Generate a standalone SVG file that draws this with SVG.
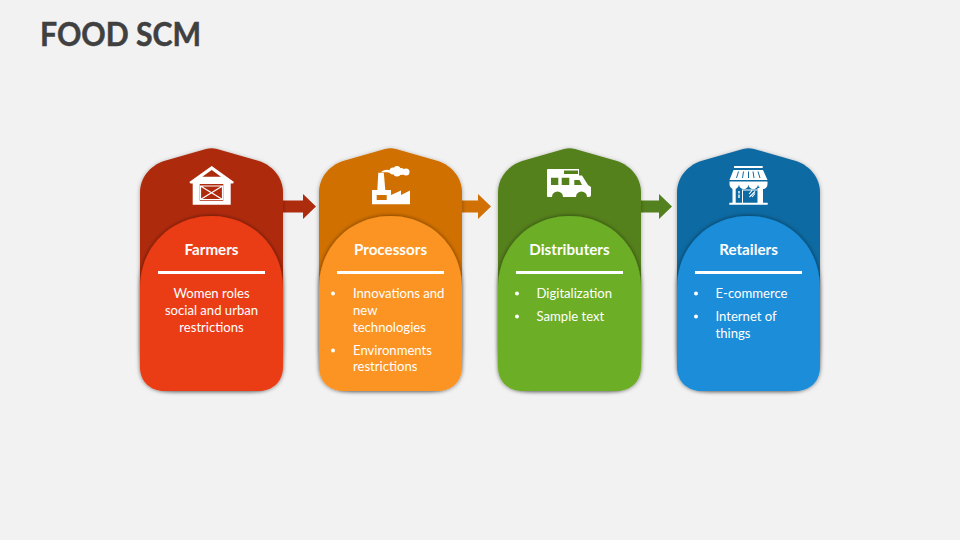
<svg xmlns="http://www.w3.org/2000/svg" width="960" height="540" viewBox="0 0 960 540">
<style>
text{font-family:"Lato","Carlito","Open Sans",sans-serif;fill:#fff}
.title{font-family:"Lato","Open Sans",sans-serif;font-size:33px;font-weight:700;fill:#404040;stroke:#404040;stroke-width:.5}
.head{font-size:15.2px;font-weight:700;text-anchor:middle}
.body{font-size:13.100px}
.mid{text-anchor:middle}
.rule{fill:#fff}
.icon{fill:#fff}
.r{fill:#AE2C0E}.r2{fill:#EA3C14}
.o{fill:#D07005}.o2{fill:#FB9422}
.g{fill:#54811F}.g2{fill:#6CAE27}
.b{fill:#116AA2}.b2{fill:#1A8DD9}
</style>
<defs>
<filter id="sh" x="-20%" y="-20%" width="140%" height="140%"><feDropShadow dx="0" dy="1" stdDeviation="2" flood-color="#000" flood-opacity=".35"/></filter>
<filter id="sh2" x="-20%" y="-20%" width="140%" height="140%"><feDropShadow dx="0" dy="0" stdDeviation="2" flood-color="#000" flood-opacity=".55"/></filter>
<path id="outer" d="M0 192V44C0 31 9 18 24 13L66 1Q71.500 -0.500 77 1L119 13C134 18 143 31 143 44V192C143 228 130 243 108 243H35C13 243 0 228 0 192Z"/>
<path id="inner" d="M0 140C0 98 32 68 71.500 68C111 68 143 98 143 140V219C143 234 132 243 119 243H24C11 243 0 234 0 219Z"/>
</defs>
<rect width="960" height="540" fill="#F2F2F2"/>
<text class="title" x="40" y="46" textLength="161" lengthAdjust="spacingAndGlyphs">FOOD SCM</text>

<g id="connectors">
<path class="r" d="M283 200.500H303V194L316 206.500L303 219V212.500H283Z"/>
<path class="o" d="M462 200.500H478V194L491 206.500L478 219V212.500H462Z"/>
<path class="g" d="M641 200.500H659V194L672 206.500L659 219V212.500H641Z"/>
</g>

<g id="farmers" transform="translate(140 148)">
<use href="#outer" class="r" filter="url(#sh)"/>
<use href="#inner" class="r2" filter="url(#sh2)"/>
<path class="icon" fill-rule="evenodd" transform="translate(-140 -148)" d="M211.700 166L234 182L233 183.500H230.700V204.700H192.700V183.500H190.500L189.300 182ZM211.700 170L202.300 176.700H221ZM199.700 184V200.700H223.300V184Z"/>
<path transform="translate(-140 -148)" fill="none" stroke="#fff" stroke-width="1.200" d="M200.500 186H222.500V199.500H200.500ZM200.500 186L222.500 199.500M222.500 186L200.500 199.500"/>
<text class="head" x="71.500" y="107">Farmers</text>
<rect class="rule" x="18" y="123" width="107" height="3"/>
<text class="body mid" x="71.500" y="150">Women roles</text>
<text class="body mid" x="71.500" y="167">social and urban</text>
<text class="body mid" x="71.500" y="184">restrictions</text>
</g>

<g id="processors" transform="translate(319 148)">
<use href="#outer" class="o" filter="url(#sh)"/>
<use href="#inner" class="o2" filter="url(#sh2)"/>
<path class="icon" fill-rule="evenodd" transform="translate(-319 -148)" d="M378.300 172.700H383.800L385.300 190H391L391 195L401 190.500V195L410 190.500V204.300H372V190H377.300ZM376.700 195V200H386.700V195Z"/>
<g class="icon" transform="translate(-319 -148)">
<path d="M381 172.500C383 169.500 387 169 391 170.500L394 174C389 172 385 172 381 172.500Z"/>
<circle cx="393" cy="171" r="3.500"/><circle cx="397" cy="169.500" r="3.500"/><circle cx="401" cy="171.500" r="3.500"/><circle cx="406" cy="172" r="3.500"/><circle cx="397" cy="173" r="3.500"/>
</g>
<text class="head" x="71.500" y="107">Processors</text>
<rect class="rule" x="18" y="123" width="107" height="3"/>
<circle cx="14" cy="145.500" r="2" fill="#fff"/>
<text class="body" x="34" y="150">Innovations and</text>
<text class="body" x="34" y="167">new</text>
<text class="body" x="34" y="184">technologies</text>
<circle cx="14" cy="202.500" r="2" fill="#fff"/>
<text class="body" x="34" y="207">Environments</text>
<text class="body" x="34" y="223">restrictions</text>
</g>

<g id="distributers" transform="translate(498 148)">
<use href="#outer" class="g" filter="url(#sh)"/>
<use href="#inner" class="g2" filter="url(#sh2)"/>
<path class="icon" fill-rule="evenodd" transform="translate(-498 -148)" d="M548 169H579V175.500H582L588 185L591 187V195Q591 197 589 197H587A5.500 5.500 0 0 0 576 197H563A5.500 5.500 0 0 0 552 197H548Q547 197 547 196V170Q547 169 548 169ZM551 177.700V185H558.300V177.700ZM561.700 177.700V185H569.300V177.700ZM574.300 180V185H582L579.500 180ZM564 170.500V174H578V170.500Z"/>
<circle class="icon" cx="557.500" cy="196.500" r="3.500"/>
<circle class="icon" cx="581.500" cy="196.500" r="3.500"/>
<text class="head" x="71.500" y="107">Distributers</text>
<rect class="rule" x="18" y="123" width="107" height="3"/>
<circle cx="19" cy="145.500" r="2" fill="#fff"/>
<text class="body" x="38.500" y="150">Digitalization</text>
<circle cx="19" cy="168.500" r="2" fill="#fff"/>
<text class="body" x="38.500" y="173">Sample text</text>
</g>

<g id="retailers" transform="translate(677 148)">
<use href="#outer" class="b" filter="url(#sh)"/>
<use href="#inner" class="b2" filter="url(#sh2)"/>
<g transform="translate(-677 -148)">
<rect class="icon" x="734" y="166" width="28.700" height="2"/>
<path class="icon" d="M733.500 170H763L767.500 180H729.500Z"/>
<path fill="none" stroke="#116AA2" stroke-width="1" d="M738.500 171.500L736.500 178M743.500 171.500L742.500 178M748.500 171.500V178M753 171.500L754 178M758 171.500L760 178"/>
<path class="icon" d="M729.500 181.500H767.500V184A4.700 4.700 0 0 1 758 184.500A4.700 4.700 0 0 1 748.500 184.500A4.700 4.700 0 0 1 739 184.500A4.700 4.700 0 0 1 729.500 184Z"/>
<path class="icon" fill-rule="evenodd" d="M732.500 188H735.700V202.700H742V189.500H743V202.700H757.500V188H763V202.700H767.700V204.700H729.300V202.700H732.500Z"/>
<path fill="none" stroke="#fff" stroke-width="1.100" d="M743 190H757.500M749 194L752 190.500M749.500 197L755 191.500M752 197L755 193.500"/>
<rect class="icon" x="738.300" y="191" width="1.400" height="2.500"/>
<rect class="icon" x="738.300" y="194.500" width="1.400" height="3.500"/>
</g>
<text class="head" x="71.500" y="107">Retailers</text>
<rect class="rule" x="18" y="123" width="107" height="3"/>
<circle cx="19" cy="145.500" r="2" fill="#fff"/>
<text class="body" x="38.500" y="150">E-commerce</text>
<circle cx="19" cy="168.500" r="2" fill="#fff"/>
<text class="body" x="38.500" y="173">Internet of</text>
<text class="body" x="38.500" y="190">things</text>
</g>
</svg>
